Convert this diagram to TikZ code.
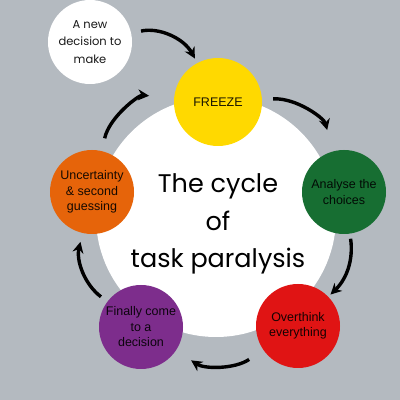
\documentclass[tikz,border=0pt]{standalone}
\usepackage{fontspec}
\setmainfont{Liberation Sans}
\newfontfamily\popfont{Poppins}
\usetikzlibrary{arrows.meta}
\definecolor{bggrey}{HTML}{B4BAC0}
\definecolor{freezeyellow}{HTML}{FFD900}
\definecolor{analysegreen}{HTML}{176E32}
\definecolor{overred}{HTML}{E01414}
\definecolor{finalpurple}{HTML}{7D2D8C}
\definecolor{doubtorange}{HTML}{E6640A}

\begin{document}
\begin{tikzpicture}[x=1pt,y=1pt,
    stage/.style={circle,minimum size=84pt,inner sep=0pt,align=center,
      text opacity=0.9,font=\fontsize{12.5}{15.5}\selectfont},
    cyc/.style={-{Stealth[length=11pt,width=11pt]},line width=3.4pt,black}]
  \fill[bggrey] (0,0) rectangle (400,400);
  \node[circle,fill=white,minimum size=240pt] (hub) at (216,183) {};
  \node[stage,fill=white,font=\popfont\fontsize{11.5}{17.5}\selectfont]
                                  (new)       at (90,358)  {A new\\decision to\\make};
  \node[stage,fill=freezeyellow,minimum size=88pt]
                                  (freeze)    at (218,298) {FREEZE};
  \node[stage,fill=analysegreen]  (analyse)   at (344,208) {Analyse the\\choices};
  \node[stage,fill=overred]       (overthink) at (298,74)  {Overthink\\everything};
  \node[stage,fill=finalpurple]   (finally)   at (141,73)  {Finally come\\to a\\decision};
  \node[stage,fill=doubtorange]   (doubt)     at (92,208)  {Uncertainty\\\& second\\guessing};
  \node[align=center,font=\popfont\fontsize{25.5}{37.5}\selectfont]
                                  (title)     at (218,176) {The cycle\\of\\task paralysis};
  \path (new)       edge[cyc,bend left=37,shorten <=10pt,shorten >=5pt]  (freeze);
  \path (freeze)    edge[cyc,bend left=39,shorten <=11pt,shorten >=22pt] (analyse);
  \path (analyse)   edge[cyc,bend left=27,shorten <=5pt,shorten >=3pt]   (overthink);
  \path (overthink) edge[cyc,bend left=34,shorten <=17pt,shorten >=18pt] (finally);
  \path (finally)   edge[cyc,bend left=33,shorten <=8pt,shorten >=9pt]   (doubt);
  \path (doubt)     edge[cyc,bend left=41,shorten <=13pt,shorten >=25pt] (freeze);
\end{tikzpicture}
\end{document}
